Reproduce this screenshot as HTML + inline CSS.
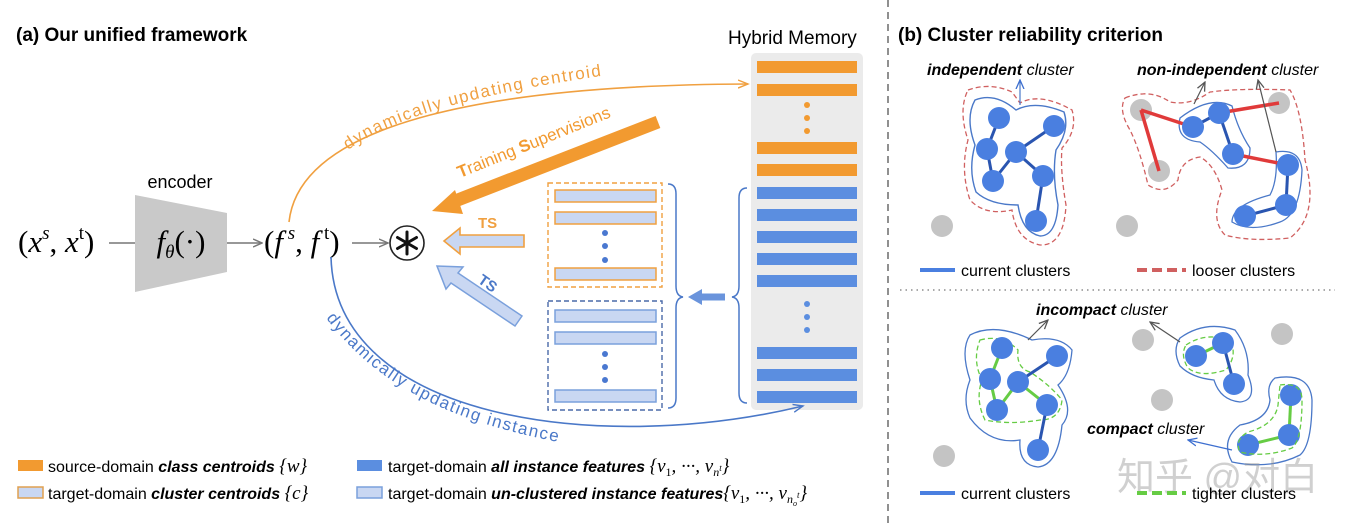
<!DOCTYPE html>
<html><head><meta charset="utf-8"><style>
body{margin:0;background:#fff}
svg{display:block;font-family:"Liberation Sans",sans-serif}
.m{font-family:"Liberation Serif",serif;font-style:italic}
</style></head><body>
<svg width="1364" height="526" viewBox="0 0 1364 526" xmlns="http://www.w3.org/2000/svg">
<defs>
<marker id="ag" markerWidth="10" markerHeight="10" refX="9" refY="5" orient="auto" markerUnits="userSpaceOnUse"><path d="M0,1 L9,5 L0,9" fill="none" stroke="#777" stroke-width="1.4"/></marker>
<marker id="ao" markerWidth="12" markerHeight="10" refX="10" refY="5" orient="auto" markerUnits="userSpaceOnUse"><path d="M0,1 L10,5 L0,9" fill="none" stroke="#f0a040" stroke-width="1.4"/></marker>
<marker id="ab" markerWidth="12" markerHeight="10" refX="10" refY="5" orient="auto" markerUnits="userSpaceOnUse"><path d="M0,1 L10,5 L0,9" fill="none" stroke="#4a78c8" stroke-width="1.4"/></marker>
<marker id="ad" markerWidth="10" markerHeight="10" refX="9" refY="5" orient="auto" markerUnits="userSpaceOnUse"><path d="M0,1 L9,5 L0,9" fill="none" stroke="#555" stroke-width="1.3"/></marker>
<marker id="abl" markerWidth="10" markerHeight="10" refX="9" refY="5" orient="auto" markerUnits="userSpaceOnUse"><path d="M0,1 L9,5 L0,9" fill="none" stroke="#3d6fd0" stroke-width="1.3"/></marker>
</defs>

<text x="16" y="41" font-size="19" font-weight="bold">(a) Our unified framework</text>
<text x="728" y="44" font-size="19">Hybrid Memory</text>
<text x="898" y="41" font-size="19" font-weight="bold">(b) Cluster reliability criterion</text>
<line x1="888" y1="0" x2="888" y2="526" stroke="#555" stroke-width="1.3" stroke-dasharray="7,5"/>

<!-- memory -->
<rect x="751" y="53" width="112" height="357" rx="5" fill="#ebebeb"/>
<g fill="#f29a30"><rect x="757" y="61" width="100" height="12"/><rect x="757" y="84" width="100" height="12"/><rect x="757" y="142" width="100" height="12"/><rect x="757" y="164" width="100" height="12"/>
<circle cx="807" cy="105" r="3"/><circle cx="807" cy="118" r="3"/><circle cx="807" cy="131" r="3"/></g>
<g fill="#5b8ee0"><rect x="757" y="187" width="100" height="12"/><rect x="757" y="209" width="100" height="12"/><rect x="757" y="231" width="100" height="12"/><rect x="757" y="253" width="100" height="12"/><rect x="757" y="275" width="100" height="12"/>
<rect x="757" y="347" width="100" height="12"/><rect x="757" y="369" width="100" height="12"/><rect x="757" y="391" width="100" height="12"/>
<circle cx="807" cy="304" r="3"/><circle cx="807" cy="317" r="3"/><circle cx="807" cy="330" r="3"/></g>

<!-- encoder -->
<text x="180" y="188" font-size="18" text-anchor="middle">encoder</text>
<polygon points="135,195 227,213 227,272 135,292" fill="#c9c9c9"/>
<text x="181" y="252" font-size="31" class="m" text-anchor="middle">f<tspan font-size="19" dy="6">θ</tspan><tspan dy="-6" font-style="normal">(·)</tspan></text>
<text x="18" y="252" font-size="31" class="m"><tspan font-style="normal">(</tspan>x<tspan font-size="19" dy="-13">s</tspan><tspan dy="13" font-style="normal">,  </tspan>x<tspan font-size="19" dy="-13" font-style="normal">t</tspan><tspan dy="13" font-style="normal">)</tspan></text>
<line x1="109" y1="243" x2="135" y2="243" stroke="#777" stroke-width="1.5"/>
<line x1="227" y1="243" x2="262" y2="243" stroke="#777" stroke-width="1.5" marker-end="url(#ag)"/>
<text x="264" y="252" font-size="31" class="m"><tspan font-style="normal">(</tspan>f<tspan font-size="19" dy="-13"> s</tspan><tspan dy="13" font-style="normal">,  </tspan>f<tspan font-size="19" dy="-13" font-style="normal"> t</tspan><tspan dy="13" font-style="normal">)</tspan></text>
<line x1="352" y1="243" x2="388" y2="243" stroke="#777" stroke-width="1.5" marker-end="url(#ag)"/>
<circle cx="407" cy="243" r="17" fill="#fff" stroke="#222" stroke-width="1.6"/>
<g stroke="#111" stroke-width="3" stroke-linecap="round"><line x1="407" y1="232" x2="407" y2="254"/><line x1="397.5" y1="237.5" x2="416.5" y2="248.5"/><line x1="397.5" y1="248.5" x2="416.5" y2="237.5"/></g>

<!-- curves -->
<path d="M289,222 C300,120 500,85 748,84" fill="none" stroke="#f0a040" stroke-width="1.6" marker-end="url(#ao)"/>
<path id="tp1" d="M348,150 C400,112 500,90 615,74" fill="none"/>
<text font-size="17" fill="#f0a040" letter-spacing="1.5"><textPath href="#tp1">dynamically  updating  centroid</textPath></text>
<path d="M331,257 C335,420 600,455 803,406" fill="none" stroke="#4a78c8" stroke-width="1.6" marker-end="url(#ab)"/>
<path id="tp2" d="M326,318 C380,390 460,425 575,445" fill="none"/>
<text font-size="17" fill="#4a78c8" letter-spacing="1.5"><textPath href="#tp2">dynamically  updating  instance</textPath></text>

<!-- Training supervisions arrow -->
<line x1="658" y1="122" x2="450" y2="203" stroke="#f29a30" stroke-width="13"/>
<polygon points="432,211 455,190 463,214" fill="#f29a30"/>
<text transform="translate(460,178) rotate(-22)" font-size="17" fill="#f29a30" font-weight="bold">T<tspan font-weight="normal">raining </tspan>S<tspan font-weight="normal">upervisions</tspan></text>

<!-- TS orange -->
<polygon points="524,235 460,235 460,228 444,241 460,254 460,247 524,247" fill="#c9d7f2" stroke="#f0a040" stroke-width="1.6"/>
<text x="478" y="228" font-size="15" font-weight="bold" fill="#f0a040">TS</text>
<!-- TS blue -->
<polygon points="522,316 458,273 463,267 437,266 446,289 451,283 515,326" fill="#c9d7f2" stroke="#7aa0dc" stroke-width="1.5"/>
<text transform="translate(477,282) rotate(35)" font-size="15" font-weight="bold" fill="#4a78c8">TS</text>

<!-- cluster boxes -->
<rect x="548" y="183" width="114" height="104" fill="none" stroke="#f0a040" stroke-width="1.4" stroke-dasharray="5,3"/>
<g fill="#c9d7f2" stroke="#f0a040" stroke-width="1.5">
<rect x="555" y="190" width="101" height="12"/><rect x="555" y="212" width="101" height="12"/><rect x="555" y="268" width="101" height="12"/></g>
<g fill="#4a78d0"><circle cx="605" cy="233" r="3"/><circle cx="605" cy="246" r="3"/><circle cx="605" cy="260" r="3"/>
<circle cx="605" cy="354" r="3"/><circle cx="605" cy="367" r="3"/><circle cx="605" cy="380" r="3"/></g>
<rect x="548" y="301" width="114" height="109" fill="none" stroke="#4a6aa8" stroke-width="1.4" stroke-dasharray="5,3"/>
<g fill="#c9d7f2" stroke="#7aa0dc" stroke-width="1.5">
<rect x="555" y="310" width="101" height="12"/><rect x="555" y="332" width="101" height="12"/><rect x="555" y="390" width="101" height="12"/></g>
<path d="M668,184 Q676,184 676,194 L676,286 Q676,296 683,297 Q676,298 676,308 L676,398 Q676,408 668,408" fill="none" stroke="#4a78c8" stroke-width="1.5"/>
<path d="M747,188 Q739,188 739,198 L739,286 Q739,296 732,297 Q739,298 739,308 L739,393 Q739,403 747,403" fill="none" stroke="#4a78c8" stroke-width="1.5"/>
<line x1="725" y1="297" x2="700" y2="297" stroke="#6a94dc" stroke-width="7"/>
<polygon points="688,297 702,289 702,305" fill="#6a94dc"/>

<!-- legend a -->
<rect x="18" y="460" width="25" height="11" fill="#f29a30"/>
<text x="48" y="472" font-size="16">source-domain <tspan font-weight="bold" font-style="italic">class centroids</tspan> <tspan class="m" font-style="normal" font-size="19">{</tspan><tspan class="m" font-size="19">w</tspan><tspan class="m" font-style="normal" font-size="19">}</tspan></text>
<rect x="18" y="487" width="25" height="11" fill="#c9d7f2" stroke="#e0a050" stroke-width="1.5"/>
<text x="48" y="499" font-size="16">target-domain <tspan font-weight="bold" font-style="italic">cluster centroids</tspan> <tspan class="m" font-style="normal" font-size="19">{</tspan><tspan class="m" font-size="19">c</tspan><tspan class="m" font-style="normal" font-size="19">}</tspan></text>
<rect x="357" y="460" width="25" height="11" fill="#5b8ee0"/>
<text x="388" y="472" font-size="16">target-domain <tspan font-weight="bold" font-style="italic">all instance features</tspan> <tspan class="m" font-size="19">{v<tspan font-size="12" dy="4" font-style="normal">1</tspan><tspan dy="-4">, ···, v</tspan><tspan font-size="12" dy="4">n<tspan font-size="9" dy="-5">t</tspan></tspan><tspan dy="1">}</tspan></tspan></text>
<rect x="357" y="487" width="25" height="11" fill="#c9d7f2" stroke="#7aa0dc" stroke-width="1.5"/>
<text x="388" y="499" font-size="16">target-domain <tspan font-weight="bold" font-style="italic">un-clustered instance features</tspan><tspan class="m" font-size="19">{v<tspan font-size="12" dy="4" font-style="normal">1</tspan><tspan dy="-4">, ···, v</tspan><tspan font-size="12" dy="4">n<tspan font-size="8" dy="3">o</tspan><tspan font-size="9" dy="-8">t</tspan></tspan><tspan dy="1">}</tspan></tspan></text>

<!-- right panel top -->
<text x="927" y="75" font-size="16"><tspan font-weight="bold" font-style="italic">independent</tspan> <tspan font-style="italic">cluster</tspan></text>
<text x="1137" y="75" font-size="16"><tspan font-weight="bold" font-style="italic">non-independent</tspan> <tspan font-style="italic">cluster</tspan></text>
<path d="M968,90 Q990,82 1012,92 L1020,103 Q1040,92 1072,110 Q1078,130 1062,148 Q1060,170 1066,205 Q1064,246 1040,245 Q1016,240 1012,210 Q985,216 970,200 Q960,170 968,140 Q958,110 968,90Z" fill="none" stroke="#d06060" stroke-width="1.3" stroke-dasharray="5,3"/>
<path d="M975,100 Q995,92 1016,110 Q1035,100 1064,112 Q1070,130 1056,150 Q1052,175 1058,205 Q1056,236 1040,236 Q1022,232 1018,205 Q990,205 976,192 Q968,170 975,145 Q965,118 975,100Z" fill="none" stroke="#4a78c8" stroke-width="1.4"/>
<line x1="1020" y1="105" x2="1020" y2="80" stroke="#4a78c8" stroke-width="1.2" marker-end="url(#abl)"/>
<g stroke="#2a55b0" stroke-width="3"><line x1="999" y1="118" x2="987" y2="149"/><line x1="987" y1="149" x2="993" y2="181"/><line x1="993" y1="181" x2="1016" y2="152"/><line x1="1016" y1="152" x2="1054" y2="126"/><line x1="1016" y1="152" x2="1043" y2="176"/><line x1="1043" y1="176" x2="1036" y2="221"/></g>
<g fill="#4a7fe0"><circle cx="999" cy="118" r="11"/><circle cx="1054" cy="126" r="11"/><circle cx="987" cy="149" r="11"/><circle cx="1016" cy="152" r="11"/><circle cx="993" cy="181" r="11"/><circle cx="1043" cy="176" r="11"/><circle cx="1036" cy="221" r="11"/></g>
<g fill="#c4c4c4"><circle cx="942" cy="226" r="11"/><circle cx="1127" cy="226" r="11"/><circle cx="1141" cy="110" r="11"/><circle cx="1279" cy="103" r="11"/><circle cx="1159" cy="171" r="11"/>
<circle cx="944" cy="456" r="11"/><circle cx="1143" cy="340" r="11"/><circle cx="1282" cy="334" r="11"/><circle cx="1162" cy="400" r="11"/></g>
<path d="M1125,98 Q1150,88 1170,102 Q1190,106 1210,92 Q1240,88 1290,90 Q1302,110 1305,160 Q1320,215 1290,238 Q1250,242 1225,235 Q1210,220 1222,190 Q1215,165 1200,157 Q1180,160 1178,180 Q1165,196 1148,185 Q1140,150 1130,130 Q1118,110 1125,98Z" fill="none" stroke="#d06060" stroke-width="1.3" stroke-dasharray="5,3"/>
<path d="M1180,118 Q1210,95 1232,106 Q1238,130 1250,148 Q1250,170 1228,168 Q1212,150 1200,142 Q1175,140 1180,118Z" fill="none" stroke="#4a78c8" stroke-width="1.3"/>
<path d="M1276,152 Q1300,148 1302,170 Q1300,215 1280,222 Q1250,233 1232,222 Q1232,205 1270,195 Q1278,180 1276,152Z" fill="none" stroke="#4a78c8" stroke-width="1.3"/>
<g stroke="#e03a3a" stroke-width="3.5"><line x1="1141" y1="110" x2="1193" y2="127"/><line x1="1141" y1="110" x2="1159" y2="171"/><line x1="1219" y1="113" x2="1279" y2="103"/><line x1="1233" y1="154" x2="1288" y2="165"/></g>
<g stroke="#2a55b0" stroke-width="3"><line x1="1193" y1="127" x2="1219" y2="113"/><line x1="1219" y1="113" x2="1233" y2="154"/><line x1="1288" y1="165" x2="1286" y2="205"/><line x1="1286" y1="205" x2="1245" y2="216"/></g>
<g fill="#4a7fe0"><circle cx="1193" cy="127" r="11"/><circle cx="1219" cy="113" r="11"/><circle cx="1233" cy="154" r="11"/><circle cx="1288" cy="165" r="11"/><circle cx="1286" cy="205" r="11"/><circle cx="1245" cy="216" r="11"/></g>
<line x1="1194" y1="104" x2="1205" y2="82" stroke="#555" stroke-width="1.2" marker-end="url(#ad)"/>
<line x1="1276" y1="152" x2="1258" y2="80" stroke="#555" stroke-width="1.2" marker-end="url(#ad)"/>
<line x1="920" y1="270" x2="955" y2="270" stroke="#4a7fe0" stroke-width="4"/>
<text x="961" y="276" font-size="16">current clusters</text>
<line x1="1137" y1="270" x2="1186" y2="270" stroke="#d06060" stroke-width="4" stroke-dasharray="10,5"/>
<text x="1192" y="276" font-size="16">looser clusters</text>
<line x1="900" y1="290" x2="1335" y2="290" stroke="#777" stroke-width="1.3" stroke-dasharray="1.5,4"/>

<!-- bottom -->
<text x="1036" y="315" font-size="16"><tspan font-weight="bold" font-style="italic">incompact</tspan> <tspan font-style="italic">cluster</tspan></text>
<path d="M970,335 Q995,322 1032,340 Q1060,335 1072,350 Q1070,375 1058,385 Q1075,410 1062,425 Q1058,465 1038,467 Q1018,465 1020,440 Q990,445 970,418 Q962,400 970,380 Q960,350 970,335Z" fill="none" stroke="#4a78c8" stroke-width="1.3"/>
<path d="M980,340 Q1002,334 1018,350 Q1016,368 1030,372 Q1050,385 1062,400 Q1060,420 1040,420 Q1010,425 985,420 Q975,400 982,380 Q972,360 980,340Z" fill="none" stroke="#66cc44" stroke-width="1.3" stroke-dasharray="5,3"/>
<line x1="1028" y1="340" x2="1048" y2="320" stroke="#555" stroke-width="1.2" marker-end="url(#ad)"/>
<g stroke="#2a55b0" stroke-width="3"><line x1="1018" y1="382" x2="1057" y2="356"/><line x1="1047" y1="405" x2="1038" y2="450"/></g>
<g stroke="#66cc44" stroke-width="3"><line x1="1002" y1="348" x2="990" y2="379"/><line x1="990" y1="379" x2="997" y2="410"/><line x1="997" y1="410" x2="1018" y2="382"/><line x1="1018" y1="382" x2="1047" y2="405"/></g>
<g fill="#4a7fe0"><circle cx="1002" cy="348" r="11"/><circle cx="1057" cy="356" r="11"/><circle cx="990" cy="379" r="11"/><circle cx="1018" cy="382" r="11"/><circle cx="997" cy="410" r="11"/><circle cx="1047" cy="405" r="11"/><circle cx="1038" cy="450" r="11"/></g>
<path d="M1180,338 Q1205,320 1235,330 Q1250,350 1248,375 Q1258,400 1240,402 Q1220,400 1214,380 Q1192,378 1180,366 Q1172,350 1180,338Z" fill="none" stroke="#4a78c8" stroke-width="1.3"/>
<path d="M1186,345 Q1205,332 1230,340 Q1238,355 1226,370 Q1200,378 1188,368 Q1180,355 1186,345Z" fill="none" stroke="#66cc44" stroke-width="1.3" stroke-dasharray="5,3"/>
<line x1="1180" y1="342" x2="1150" y2="322" stroke="#555" stroke-width="1.2" marker-end="url(#ad)"/>
<g stroke="#66cc44" stroke-width="3"><line x1="1196" y1="356" x2="1223" y2="343"/><line x1="1291" y1="395" x2="1289" y2="435"/><line x1="1289" y1="435" x2="1248" y2="445"/></g>
<line x1="1223" y1="343" x2="1234" y2="384" stroke="#2a55b0" stroke-width="3"/>
<g fill="#4a7fe0"><circle cx="1196" cy="356" r="11"/><circle cx="1223" cy="343" r="11"/><circle cx="1234" cy="384" r="11"/><circle cx="1291" cy="395" r="11"/><circle cx="1289" cy="435" r="11"/><circle cx="1248" cy="445" r="11"/></g>
<path d="M1275,378 Q1310,372 1312,400 Q1312,445 1300,455 Q1270,470 1232,462 Q1220,440 1240,425 Q1268,420 1270,400 Q1266,385 1275,378Z" fill="none" stroke="#4a78c8" stroke-width="1.3"/>
<path d="M1280,385 Q1302,382 1302,400 Q1302,440 1292,448 Q1265,458 1240,452 Q1234,440 1248,432 Q1275,425 1278,405Z" fill="none" stroke="#66cc44" stroke-width="1.3" stroke-dasharray="5,3"/>
<text x="1087" y="434" font-size="16"><tspan font-weight="bold" font-style="italic">compact</tspan> <tspan font-style="italic">cluster</tspan></text>
<line x1="1232" y1="450" x2="1188" y2="440" stroke="#3d6fd0" stroke-width="1.2" marker-end="url(#abl)"/>
<text x="1117" y="490" font-size="38" fill="#999" opacity="0.45" font-family="'Liberation Sans','Noto Sans CJK SC',sans-serif">知乎 @对白</text>
<line x1="920" y1="493" x2="955" y2="493" stroke="#4a7fe0" stroke-width="4"/>
<text x="961" y="499" font-size="16">current clusters</text>
<line x1="1137" y1="493" x2="1186" y2="493" stroke="#66cc44" stroke-width="4" stroke-dasharray="10,5"/>
<text x="1192" y="499" font-size="16">tighter clusters</text>
</svg>
</body></html>
